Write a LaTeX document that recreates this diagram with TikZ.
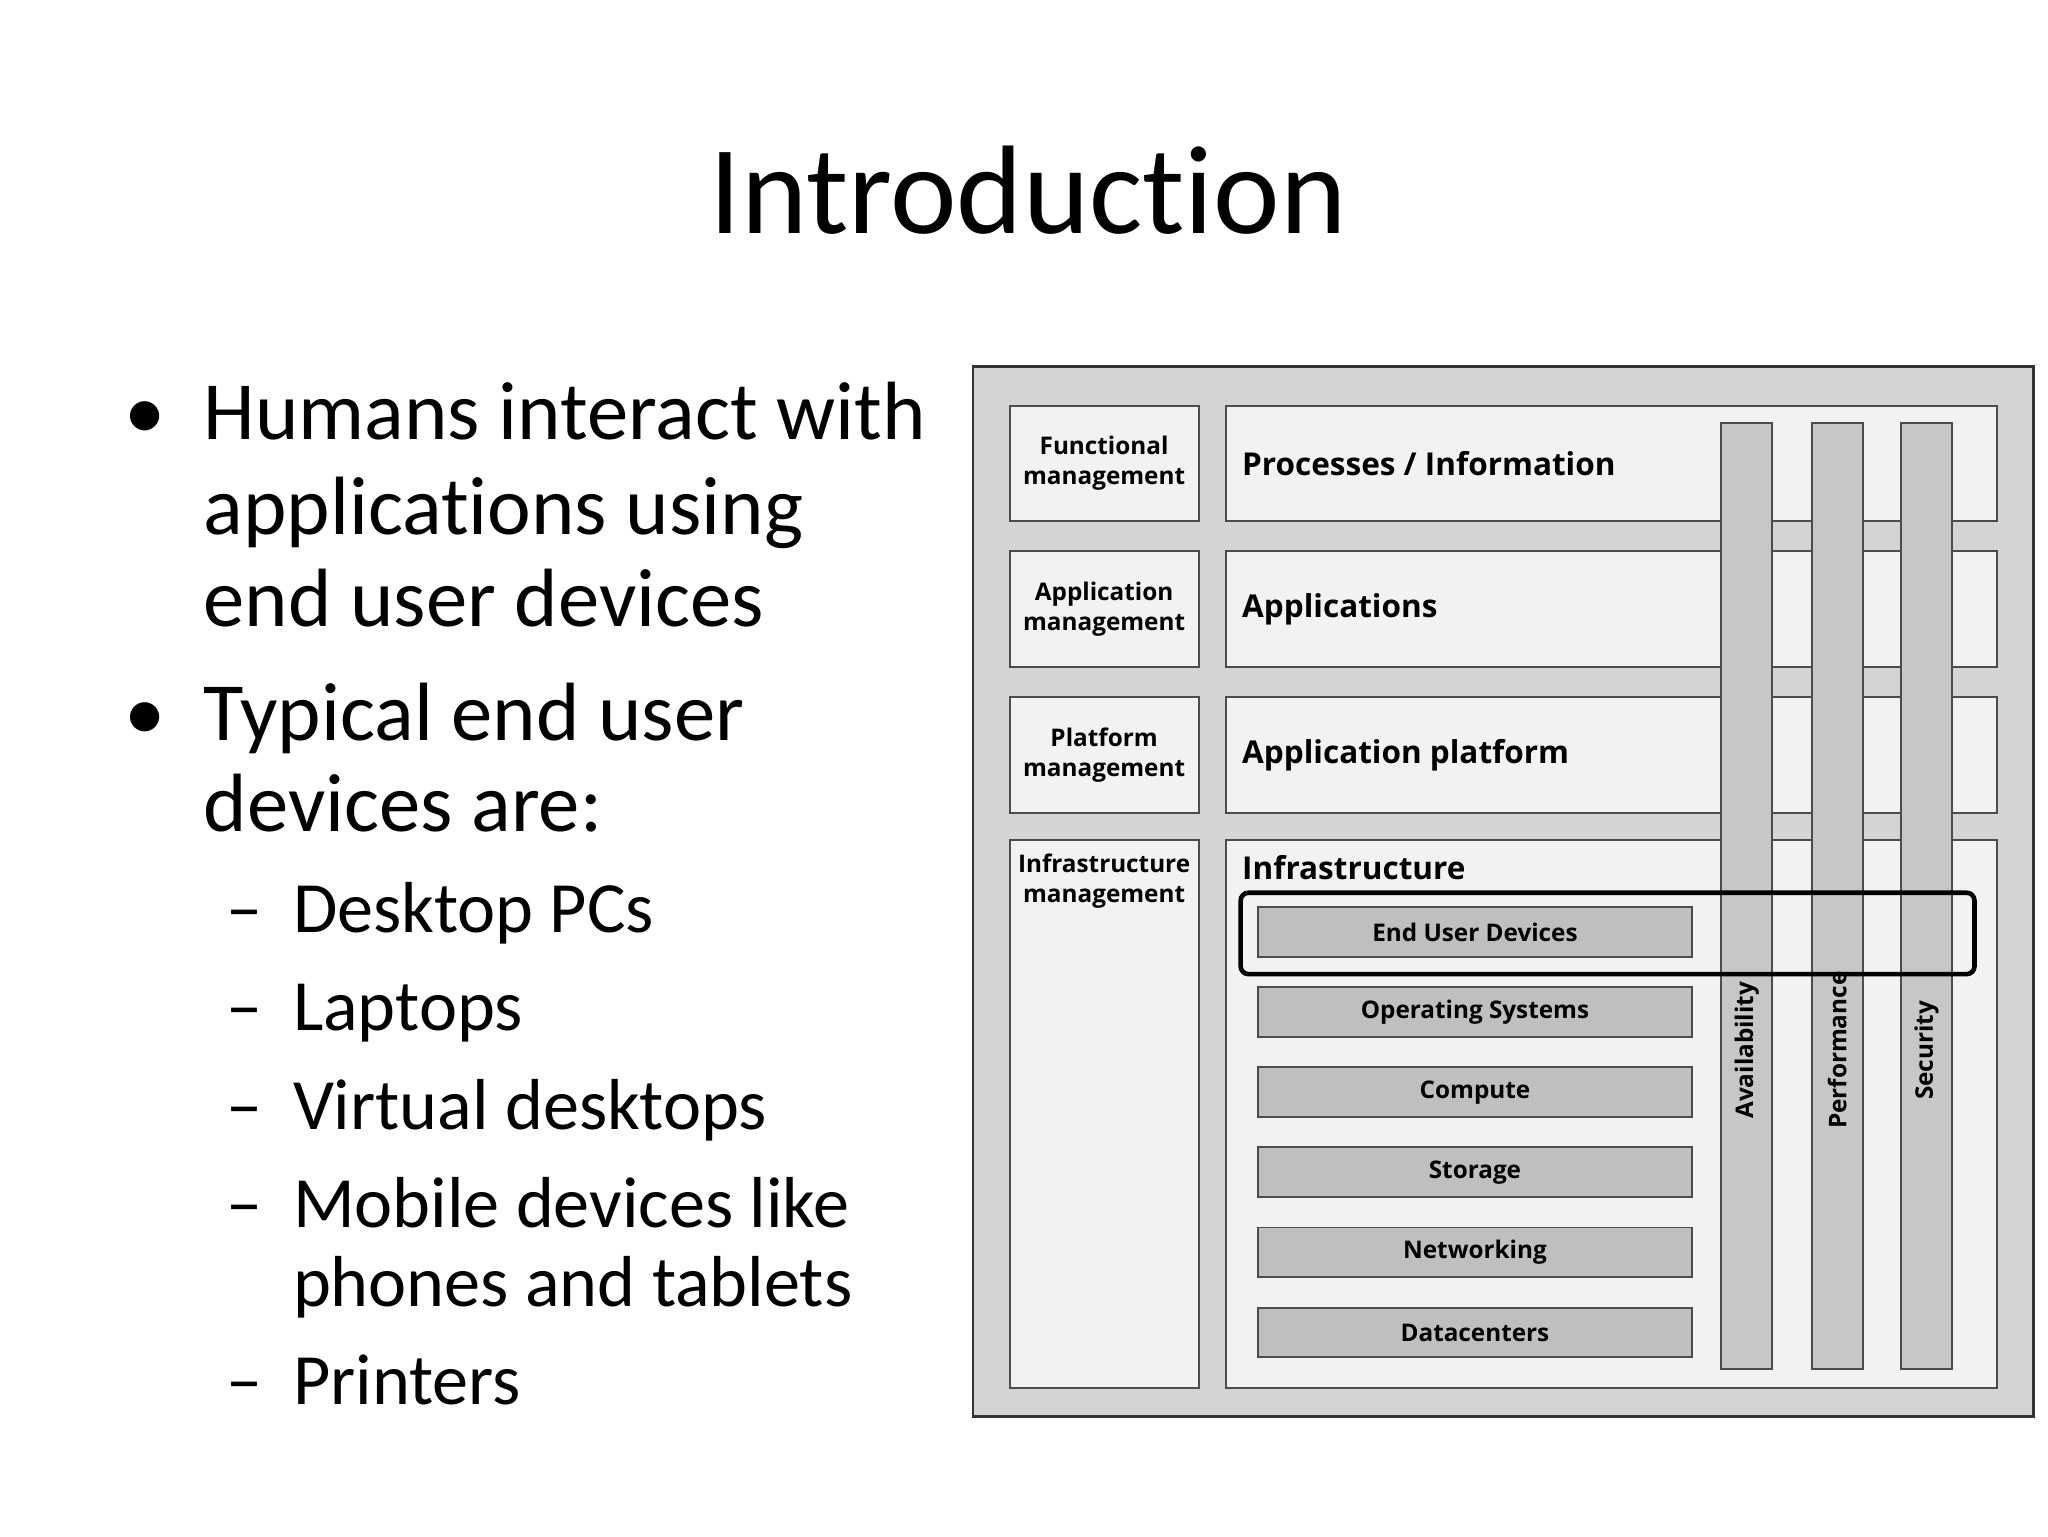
\documentclass[tikz,border=0pt]{standalone}
\usepackage{fontspec}
\setmainfont{Carlito}[Contextuals=NoAlternate,Ligatures={NoCommon}]
\newfontfamily\dsans{Open Sans}
\begin{document}
\begin{tikzpicture}[x=1pt,y=-1pt,
 txt/.style={anchor=base west,inner sep=0pt,font=\fontsize{63}{65}\selectfont},
 sub/.style={anchor=base west,inner sep=0pt,font=\fontsize{55}{57}\selectfont},
 lbox/.style={draw=black!70,line width=1.5pt,fill=black!5},
 bar/.style={draw=black!70,line width=1.5pt,fill=black!22},
 ibox/.style={draw=black!70,line width=1.5pt,fill=black!25},
 mlab/.style={align=center,font=\dsans\bfseries\fontsize{18.5}{23}\selectfont,inner sep=0pt},
 rlab/.style={anchor=west,font=\dsans\bfseries\fontsize{24}{27}\selectfont,inner sep=0pt}]
\useasboundingbox (0,0) rectangle (1560,1170);
\node[anchor=base,inner sep=0pt,font=\fontsize{96}{100}\selectfont] (title) at (783,178) {Introduction};
\node[txt] (b1) at (95,335) {•};
\node[txt] (t1) at (155,335) {Humans interact with};
\node[txt] (t2) at (155,407) {applications using};
\node[txt] (t3) at (155,477) {end user devices};
\node[txt] (b2) at (95,564) {•};
\node[txt] (t4) at (155,564) {Typical end user};
\node[txt] (t5) at (155,633) {devices are:};
\foreach \y/\t [count=\i] in {710/Desktop PCs,785/Laptops,860/Virtual desktops,935/Mobile devices like,1070/Printers}{
 \node[sub] (d\i) at (172,\y) {–};
 \node[sub] (s\i) at (223,\y) {\t};}
\node[sub] (s6) at (223,995) {phones and tablets};
% diagram
\draw[draw=black!80,line width=2pt,fill=black!17] (741,279) rectangle (1549,1079);
\foreach \a/\b/\n in {309/397/1,420/508/2,531/619/3,640/1057/4}{
 \draw[lbox] (769,\a) rectangle (913,\b);
 \draw[lbox] (934,\a) rectangle (1521,\b);}
\node[mlab] (m1) at (841,353) {Functional\\management};
\node[mlab] (m2) at (841,464) {Application\\management};
\node[mlab] (m3) at (841,575) {Platform\\management};
\node[mlab] (m4) at (841,671) {Infrastructure\\management};
\node[rlab] (r1) at (946,353) {Processes / Information};
\node[rlab] (r2) at (946,464) {Applications};
\node[rlab] (r3) at (946,575) {Application platform};
\node[rlab] (r4) at (946,661) {Infrastructure};
\foreach \y/\t [count=\i] in {691/End User Devices,752/Operating Systems,813/Compute,874/Storage,935/Networking,996/Datacenters}{
 \draw[ibox] (958,\y) rectangle (1289,\y+38);
 \node[font=\dsans\bfseries\fontsize{18.5}{21}\selectfont,inner sep=0pt] (i\i) at (1123.5,\y+19) {\t};}
\foreach \x/\t in {1311/Availability,1380/Performance,1448/Security}{
 \draw[bar] (\x,322) rectangle (\x+39,1043);
 \node[rotate=90,font=\dsans\bfseries\fontsize{18.5}{21}\selectfont,inner sep=0pt] at (\x+19.5,800) {\t};}
\draw[line width=3.5pt,rounded corners=6pt] (945,680) rectangle (1504,742);
\end{tikzpicture}
\end{document}
